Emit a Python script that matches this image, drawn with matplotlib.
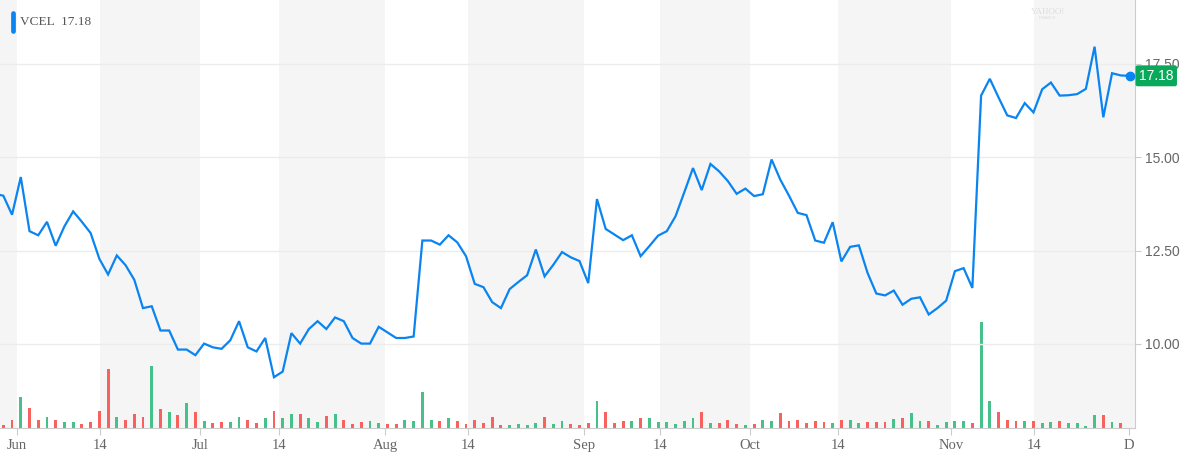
import numpy as np
import matplotlib; matplotlib.use("Agg")
import matplotlib.pyplot as plt
import matplotlib.transforms as mtransforms
from matplotlib.lines import Line2D

BLUE = "#0a84f0"; GREEN = "#47c18a"; RED = "#f7625e"; BAND = "#f5f5f5"
GRID = "#ececec"; AXC = "#cccccc"; TXT = "#666666"; TAG = "#0aa85a"

# daily closes (first value = previous session, line enters from the left edge)
PRICE = [14.02,
         13.97, 13.46, 14.47, 13.02, 12.91, 13.27, 12.63, 13.15, 13.55, 13.27,
         12.97, 12.28, 11.86, 12.37, 12.11, 11.72, 10.96, 11.01, 10.36, 10.36,
         9.85, 9.85, 9.70, 10.01, 9.91, 9.87, 10.10, 10.61, 9.91, 9.80,
         10.16, 9.11, 9.26, 10.29, 10.01, 10.40, 10.61, 10.40, 10.71, 10.61,
         10.16, 10.01, 10.01, 10.46, 10.31, 10.16, 10.16, 10.20, 12.77, 12.77,
         12.66, 12.91, 12.72, 12.35, 11.61, 11.52, 11.12, 10.96, 11.47, 11.66,
         11.84, 12.53, 11.81, 12.12, 12.46, 12.32, 12.22, 11.63, 13.88, 13.08,
         12.93, 12.78, 12.91, 12.35, 12.62, 12.90, 13.02, 13.42, 14.06, 14.71,
         14.12, 14.82, 14.62, 14.36, 14.02, 14.16, 13.96, 14.01, 14.94, 14.40,
         13.97, 13.51, 13.45, 12.77, 12.71, 13.26, 12.21, 12.60, 12.64, 11.90,
         11.35, 11.30, 11.43, 11.05, 11.21, 11.25, 10.79, 10.96, 11.16, 11.95,
         12.03, 11.50, 16.65, 17.10, 16.60, 16.12, 16.05, 16.45, 16.20, 16.82,
         17.00, 16.65, 16.66, 16.69, 16.83, 17.96, 16.07, 17.25, 17.19, 17.18]

# volume, thousands of shares
VOLUME = [0,
          70, 170, 630, 410, 170, 230, 170, 130, 130, 90,
          130, 350, 1190, 230, 170, 290, 230, 1250, 390, 330,
          270, 510, 330, 150, 110, 130, 130, 230, 170, 110,
          210, 350, 210, 290, 290, 210, 130, 250, 290, 170,
          90, 130, 150, 110, 90, 90, 170, 150, 730, 170,
          150, 210, 150, 90, 170, 110, 230, 70, 70, 90,
          70, 110, 230, 90, 150, 90, 70, 110, 550, 330,
          110, 150, 150, 210, 210, 130, 130, 90, 150, 210,
          330, 110, 110, 170, 90, 70, 90, 170, 150, 310,
          150, 170, 110, 150, 130, 110, 170, 170, 110, 130,
          130, 130, 190, 210, 310, 150, 150, 70, 130, 150,
          150, 110, 2120, 550, 330, 170, 150, 150, 150, 110,
          130, 150, 110, 110, 50, 270, 270, 130, 110, 0]

# U = up day (green bar), D = down day (red bar)
DIRECTION = ("-"
             "DDUDDUDUUD" "DDDUDDDUDU" "DUDUDDUUDD" "UDUUDUUDUD" "DDUU"
             "DDUUUUDUDD" "DDDDUUUUDU" "UDDDUDDDUD" "UUUUUUDUDD" "DUDU"
             "UDDDDDDUDU" "UDDDUDUUDU" "UUUDUUDDDU" "DUUDUUUUDU" "DD")

TICK_POS = [2.57, 12.08, 23.53, 32.58, 44.72, 54.2, 67.52, 76.19,
            86.53, 96.61, 109.56, 119.06, 129.95]
TICK_LAB = ["Jun", "14", "Jul", "14", "Aug", "14", "Sep", "14",
            "Oct", "14", "Nov", "14", "D"]
SYMBOL = "VCEL"

x = np.arange(len(PRICE))
XLIM = (0.62, 130.63)

fig = plt.figure(figsize=(11.9, 4.58), dpi=100)
rect = [0, 30/458, 1135/1190, 428/458]

# volume + background bands (bottom layer)
axv = fig.add_axes(rect)
axv.set_xlim(*XLIM); axv.set_ylim(0, 8560)
bounds = [XLIM[0]] + TICK_POS[:-1] + [XLIM[1]]
for k in range(0, len(bounds) - 1, 2):
    axv.axvspan(bounds[k], bounds[k+1], color=BAND, lw=0, zorder=0)
cols = [GREEN if d == "U" else RED for d in DIRECTION]
axv.bar(x, VOLUME, width=0.33, color=cols, zorder=2)
axv.axis("off")

# price (top layer)
ax = fig.add_axes(rect)
ax.patch.set_visible(False)
ax.set_xlim(*XLIM); ax.set_ylim(7.75, 19.21)
ax.plot(x, PRICE, color=BLUE, lw=1.6, solid_joinstyle="miter", zorder=3)
ax.plot(x[-1], PRICE[-1], "o", ms=6, color=BLUE, clip_on=False, zorder=4)

ax.set_yticks([10, 12.5, 15, 17.5])
ax.set_yticklabels([f"{v:.2f}" for v in [10, 12.5, 15, 17.5]], family="Liberation Sans")
ax.yaxis.tick_right()
ax.grid(axis="y", color=GRID, lw=1)
ax.tick_params(axis="y", length=4, color=AXC, labelcolor=TXT, labelsize=10, pad=3)
ax.set_xticks(TICK_POS)
ax.set_xticklabels(TICK_LAB, family="Liberation Serif", fontsize=10.5)
ax.tick_params(axis="x", length=5, color=AXC, labelcolor=TXT, pad=3)
for s in ["top", "left"]:
    ax.spines[s].set_visible(False)
for s in ["right", "bottom"]:
    ax.spines[s].set_color(AXC)

# last price tag
tr = mtransforms.blended_transform_factory(ax.transAxes, ax.transData)
ax.text(1.0 + 4/1135, PRICE[-1], f"{PRICE[-1]:.2f}", transform=tr, ha="left", va="center",
        color="white", fontsize=10, family="Liberation Sans", clip_on=False, zorder=10,
        bbox=dict(boxstyle="round,pad=0.25,rounding_size=0.15", fc=TAG, ec="none"))

# legend
fig.add_artist(Line2D([12.5/1190]*2, [1 - 13/458, 1 - 31/458], lw=3.4, color=BLUE,
                      solid_capstyle="round", transform=fig.transFigure))
fig.text(20/1190, 1 - 22/458, f"{SYMBOL}  {PRICE[-1]:.2f}", va="center", ha="left",
         family="Liberation Serif", fontsize=9.5, color="#555555")

# watermark
fig.text(1048/1190, 1 - 12/458, "YAHOO!", ha="center", va="center", fontsize=6.5,
         color="#dddddd", family="Liberation Serif")
fig.text(1048/1190, 1 - 18/458, "FINANCE", ha="center", va="center", fontsize=3,
         color="#dddddd")

fig.savefig("out.png", dpi=100)
